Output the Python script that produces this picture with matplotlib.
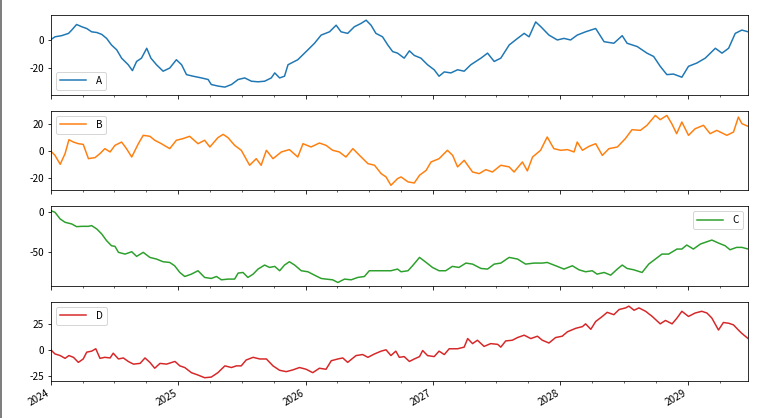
import matplotlib
matplotlib.use('Agg')
import matplotlib.pyplot as plt
import matplotlib.dates as mdates
import pandas as pd

plt.rcParams['font.family'] = ['Noto Sans CJK SC', 'DejaVu Sans']
plt.rcParams['font.size'] = 10
plt.rcParams['axes.unicode_minus'] = False

start = pd.Timestamp('2024-01-01')
n_days = 1999

# values, keyed by day offset from 2024-01-01
a_days = [0, 12, 31, 51, 60, 74, 89, 103, 117, 132, 146, 160, 174, 189, 203, 222, 234, 246, 260, 275,
          287, 303, 322, 341, 360, 375, 389, 408, 432, 451, 460, 480, 499, 518, 537, 556, 575, 594, 613, 632,
          642, 656, 670, 680, 708, 737, 756, 775, 799, 818, 832, 851, 870, 889, 904, 918, 932, 951, 966, 980,
          994, 1013, 1028, 1042, 1061, 1080, 1099, 1113, 1128, 1147, 1166, 1185, 1204, 1233, 1252, 1271, 1290,
          1314, 1338, 1357, 1371, 1390, 1405, 1428, 1452, 1471, 1490, 1509, 1533, 1562, 1586, 1614, 1638, 1652,
          1681, 1709, 1728, 1747, 1766, 1785, 1809, 1828, 1852, 1876, 1905, 1924, 1943, 1962, 1981, 1999]
a_vals = [0, 2, 2.8, 4.4, 6.7, 10.6, 9, 7.8, 5.5, 5, 3.7, 0.9, -3.7, -7.1, -12.9, -17.5, -21.6, -15.2, -12.9, -6,
          -12.9, -17.5, -22, -19.8, -14, -17.5, -24.4, -25.5, -26.7, -27.8, -31.3, -32.4, -33.1, -31.3, -27.8,
          -26.7, -29, -29.4, -29, -26.7, -23.2, -26.7, -25.5, -17.5, -14, -7.1, -2.5, 3.2, 5.5, 10.1,
          5.5, 4.4, 9, 11.3, 13.6, 10.1, 4.4, 2, -3.7, -8.3, -9.4, -12.9, -7.8, -11, -12.9, -17.5, -21, -25.5,
          -22.5, -23.2, -21, -22, -17.5, -12.9, -9.4, -15.2, -12.9, -3.7, 0.9, 4.4, 2, 12.4, 9, 3.2, -0.2, 0.9,
          -0.2, 3.2, 5.5, 7.8, -1.4, -2.5, 2.8, -2.5, -4.8, -9.4, -11.7, -18.6, -24.4, -24,
          -26.2, -18.6, -16.3, -12.9, -6, -9.4, -6, 4.4, 6.7, 5.5]

b_days = [0, 12, 27, 41, 52, 65, 79, 93, 108, 127, 141, 155, 170, 184, 203, 217, 232, 251, 265, 284,
          298, 317, 341, 360, 379, 398, 422, 441, 456, 479, 494, 508, 527, 546, 570, 589, 603, 618, 637, 661,
          684, 708, 723, 746, 770, 789, 808, 827, 846, 866, 885, 909, 928, 947, 961, 975, 994,
          1004, 1024, 1042, 1057, 1076, 1090, 1113, 1137, 1152, 1166, 1185, 1209, 1228, 1247, 1266, 1290, 1314,
          1328, 1352, 1366, 1381, 1404, 1423, 1442, 1462, 1481, 1500, 1509, 1524, 1543, 1562, 1581, 1600, 1624,
          1647, 1666, 1690, 1709, 1733, 1747, 1766, 1780, 1794, 1809, 1828, 1847, 1871, 1890, 1909, 1938,
          1957, 1971, 1981, 1999]
b_vals = [0, -3.2, -9.7, -1.9, 8.2, 6.5, 5.3, 4.8, -5.6, -4.8, -1.9, 1.7, -0.7, 4.1, 6.5, 1.7, -4.4, 5.3, 11.4, 10.7,
          7.8, 5.3, 1.7, 7.8, 9, 10.7, 5.3, 7.8, 2.9, 9.7, 12.1, 9.7, 4.1, 0.5, -10.4, -5.6, -10.4, 0.5, -5.6, -0.7,
          1, -4.4, 5.3, 2.9, 5.8, 4.1, 0.5, -0.7, -4.4, 1.7, -3.2, -9.2, -10.4, -16.5, -18.9, -25, -20.1,
          -18.9, -22.5, -23.3, -17.7, -14.1, -8, -5.6, 0.5, -3.2, -11.6, -6.8, -15.3, -16.5, -13.6, -15.3, -10.4,
          -11.6, -15.3, -8, -14.5, -4.4, 0.5, 10.2, 1.7, 0.5, 1, -0.7, 6.5, 0.5, 3.4, 5.3, -3.2, 1.7, 2.9,
          9, 15.5, 15, 18.7, 25.9, 22.8, 25.9, 19.9, 12.6, 21.1, 11.4, 16.2, 18.7, 12.6, 15, 11.4,
          13.8, 24.7, 19.9, 17.9]

c_days = [0, 12, 27, 41, 60, 74, 89, 108, 117, 132, 146, 160, 174, 184, 194, 213, 232, 246, 265, 284,
          303, 322, 341, 355, 370, 384, 403, 422, 441, 460, 475, 489, 508, 527, 537, 551, 565, 580, 594, 613,
          627, 642, 656, 670, 684, 699, 718, 737, 756, 775, 789, 808, 823, 842, 861, 880, 899, 913, 937, 956,
          975, 994,
          1004, 1024, 1037, 1057, 1076, 1094, 1113, 1132, 1151, 1170, 1190, 1209, 1233, 1252, 1271, 1290, 1314,
          1338, 1361, 1385, 1409, 1423, 1452, 1471, 1495, 1514, 1533, 1552, 1566, 1586, 1605, 1624, 1638, 1652,
          1671, 1695, 1714, 1733, 1752, 1771, 1795, 1809, 1823, 1842, 1862, 1876, 1895, 1914, 1933, 1947,
          1966, 1981, 1999]
c_vals = [2.1, 0, -8.5, -12.7, -14.8, -18.2, -17.8, -17.8, -16.9, -21.2, -27.5, -36, -42.4, -43.2, -50.8, -53, -50,
          -55.9, -50.8, -57.2, -59.3, -62.7, -63.6, -67.8, -76.3, -81.4, -78.4, -74.1, -82.6, -83.9,
          -81.4, -85.6, -84.7, -84.7, -77.1, -76.3, -82.6, -78.4, -72, -66.9, -69.9, -68.6, -74.1, -66.9, -62.7,
          -66.9, -74.1, -75.4, -79.7, -83.9, -84.7, -85.6, -89, -84.7, -85.6, -82.6, -81.4, -74.1, -74.1, -74.1,
          -74.1, -72,
          -75.4, -74.1, -67.8, -57.2, -63.6, -69.9, -74.1, -74.1, -68.6, -69.9, -64.4, -65.7, -71.2, -72, -65.7,
          -64.4, -57.2, -59.3, -65.7, -64.4, -64.4, -63.6, -68.6, -72, -67.8, -72.9, -75.4, -74.1, -78.4, -76.3,
          -79.7, -72, -66.9, -71.2, -72.9, -76.3, -65.7, -59.3, -53, -53, -46.6, -46.6, -41.5, -46.6, -40.3,
          -38.1, -35.2, -39, -42.4, -47.5, -44.5, -44.5, -46.6]

d_days = [0, 12, 27, 41, 52, 65, 79, 93, 103, 117, 129, 141, 155, 170, 179, 194, 208, 222, 237, 256,
          270, 284, 298, 313, 332, 356, 370, 384, 403, 422, 441, 460, 479, 499, 518, 532, 546, 560, 580, 599,
          618, 637, 656, 675, 694, 713, 732, 751, 770, 789, 804, 823, 837, 851, 875, 894, 909, 928, 947, 961,
          975, 989,
          999, 1013, 1028, 1042, 1057, 1066, 1080, 1099, 1113, 1128, 1142, 1166, 1185, 1195, 1209, 1223, 1242,
          1261, 1281, 1290, 1304, 1323, 1338, 1357, 1376, 1395, 1409, 1428, 1447, 1466, 1481, 1505, 1524, 1533,
          1548, 1562, 1581, 1595, 1614, 1629, 1648, 1657, 1672, 1686, 1705, 1724, 1747, 1762, 1781, 1795,
          1809, 1828, 1847, 1866, 1881, 1895, 1914, 1928, 1943, 1957, 1971, 1981, 1999]
d_vals = [0, -4, -5.6, -8.3, -5.6, -7.3, -12.2, -8.9, -2.3, -1.3, 1, -8.3, -7.3, -7.9, -3.3, -8.9, -7.9, -11.3,
          -13.9, -13.2, -7.9, -12.2, -17.9, -13.2, -13.9, -11.3, -15.6, -17.2, -22.2, -24.5,
          -27.1, -26.5, -22.2, -15.6, -17.2, -15.6, -15.6, -9.9, -7.3, -8.9, -8.9, -15.6, -19.9, -21.2, -19.5,
          -17.2, -18.9, -22.2, -17.9, -18.9, -10.6, -8.9, -7.9, -12.2, -5.6, -4.6, -7.3, -4, -1.3, 0, -5.6, -1.3,
          -7.3, -6.6, -11.3, -8.9, -6.6, -0.7, -5.6, -6.6, -1.3, -4.6, 1, 1, 2.6, 10.9, 6, 9.3, 3.3, 6, 5.3, 2.6,
          8.6, 9.3, 11.9, 14.2, 10.9, 13.2, 9.3, 6.6, 11.9, 13.2, 17.5, 20.9, 22.5, 25.2, 19.9, 27.5, 32.4, 36.4,
          34.1, 39.1, 40.7, 42.4, 38.4, 40.7, 37.4, 32.4, 25.2, 28.5, 25.2, 30.8, 37.4, 32.4, 35.7, 37.4, 35.7,
          30.8, 19.2, 26.5, 25.8, 24.2, 19.2, 15.9, 10.9]

names = ['A', 'B', 'C', 'D']
all_days = [a_days, b_days, c_days, d_days]
all_vals = [a_vals, b_vals, c_vals, d_vals]
colors = ['#1f77b4', '#ff7f0e', '#2ca02c', '#d62728']
y_limits = [(-38.6, 16.9), (-28.7, 29.2), (-93.2, 7.6), (-30.5, 46.7)]
y_ticks = [[-20, 0], [-20, 0, 20], [-50, 0], [-25, 0, 25]]
legend_locs = ['lower left', 'upper left', 'upper right', 'upper left']

fig, axes = plt.subplots(4, 1, sharex=True, figsize=(758 / 72, 418 / 72), dpi=72)
fig.subplots_adjust(left=0.067, right=0.987, bottom=0.088, top=0.963, hspace=0.2)

for ax, name, days, vals, color, ylim, yt, loc in zip(axes, names, all_days, all_vals, colors,
                                                      y_limits, y_ticks, legend_locs):
    dates = start + pd.to_timedelta(days, unit='D')
    ax.plot(dates, vals, color=color, lw=1.5, label=name)
    ax.set_ylim(*ylim)
    ax.set_yticks(yt)
    ax.legend(loc=loc, handlelength=2.6, handletextpad=1.0)

axes[-1].set_xlim(start, start + pd.Timedelta(days=n_days))
axes[-1].xaxis.set_major_locator(mdates.YearLocator())
axes[-1].xaxis.set_major_formatter(mdates.DateFormatter('%Y'))
axes[-1].xaxis.set_minor_locator(mdates.MonthLocator(bymonth=[4, 7, 10]))
plt.setp(axes[-1].get_xticklabels(), rotation=30, ha='right')

# thin grey border on the left edge of the screenshot
fig.add_artist(plt.Line2D([0.0015, 0.0015], [0, 1], color='#555555', lw=1.5))

fig.savefig('out.png', dpi=72)
